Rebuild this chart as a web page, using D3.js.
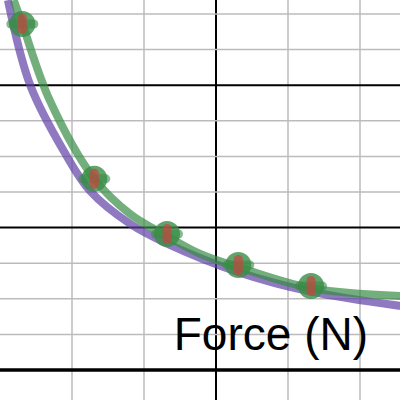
<!DOCTYPE html><html><head><script src="https://cdn.jsdelivr.net/npm/d3@7"></script>
<style>body{margin:0}</style></head><body><svg id="c" width="400" height="400"></svg><script>
const pointX=[0.31,1.31,2.32,3.31,4.32];
const pointY=[9.72,5.37,3.82,2.95,2.36];
const greenX=[0.19,0.31,0.69,1.31,1.81,2.32,2.78,3.31,4.32,5.56];
const greenY=[10.39,9.72,7.58,5.37,4.38,3.76,3.26,2.89,2.30,2.08];
const purpleX=[0.11,0.42,0.9,1.25,1.81,2.32,3.31,4.32,5.56];
const purpleY=[10.39,8.0,6.1,5.03,4.1,3.55,2.75,2.2,1.80];
const xMinor=[1,2,3,4,5], yMinor=[1,2,3,5,6,7,9,10], yMajor=[4,8];
const x=d3.scaleLinear().domain([0,400/72]).range([0,400]);
const y=d3.scaleLinear().domain([0,370/35.6]).range([370,0]);
const s=d3.select("#c");
s.append("rect").attr("width",400).attr("height",400).attr("fill","#fff");
s.selectAll(".vx").data(xMinor).join("line").attr("x1",d=>x(d)).attr("x2",d=>x(d)).attr("y1",0).attr("y2",400)
 .attr("stroke",d=>d===3?"#000":"#bbb").attr("stroke-width",d=>d===3?2:1.5);
s.selectAll(".hy").data(yMinor).join("line").attr("y1",d=>y(d)).attr("y2",d=>y(d)).attr("x1",0).attr("x2",400).attr("stroke","#bbb").attr("stroke-width",1.5);
s.selectAll(".hM").data(yMajor).join("line").attr("y1",d=>y(d)).attr("y2",d=>y(d)).attr("x1",0).attr("x2",400).attr("stroke","#000").attr("stroke-width",2);
s.append("line").attr("x1",0).attr("x2",400).attr("y1",y(0)).attr("y2",y(0)).attr("stroke","#000").attr("stroke-width",3.5);
const line=d3.line().x(d=>x(d[0])).y(d=>y(d[1])).curve(d3.curveCatmullRom);
s.append("path").attr("d",line(purpleX.map((v,i)=>[v,purpleY[i]]))).attr("fill","none").attr("stroke","#6042a6").attr("stroke-opacity",0.7).attr("stroke-width",8);
s.append("path").attr("d",line(greenX.map((v,i)=>[v,greenY[i]]))).attr("fill","none").attr("stroke","#388c46").attr("stroke-opacity",0.7).attr("stroke-width",8);
const g=s.selectAll(".pt").data(pointX.map((v,i)=>[v,pointY[i]])).join("g").attr("transform",d=>`translate(${x(d[0])},${y(d[1])})`);
g.append("circle").attr("r",13).attr("fill","#388c46").attr("opacity",0.8);
g.append("rect").attr("x",-16).attr("y",-4.5).attr("width",32).attr("height",9).attr("rx",4.5).attr("fill","#388c46").attr("opacity",0.6);
g.append("rect").attr("x",-4.5).attr("y",-10).attr("width",9).attr("height",20).attr("rx",4.5).attr("fill","#c74440").attr("opacity",0.7);
s.append("text").attr("x",368).attr("y",350).attr("text-anchor","end").attr("font-family","Arial, Liberation Sans, sans-serif").attr("font-size",46).attr("fill","#000").text("Force (N)");
</script></body></html>
